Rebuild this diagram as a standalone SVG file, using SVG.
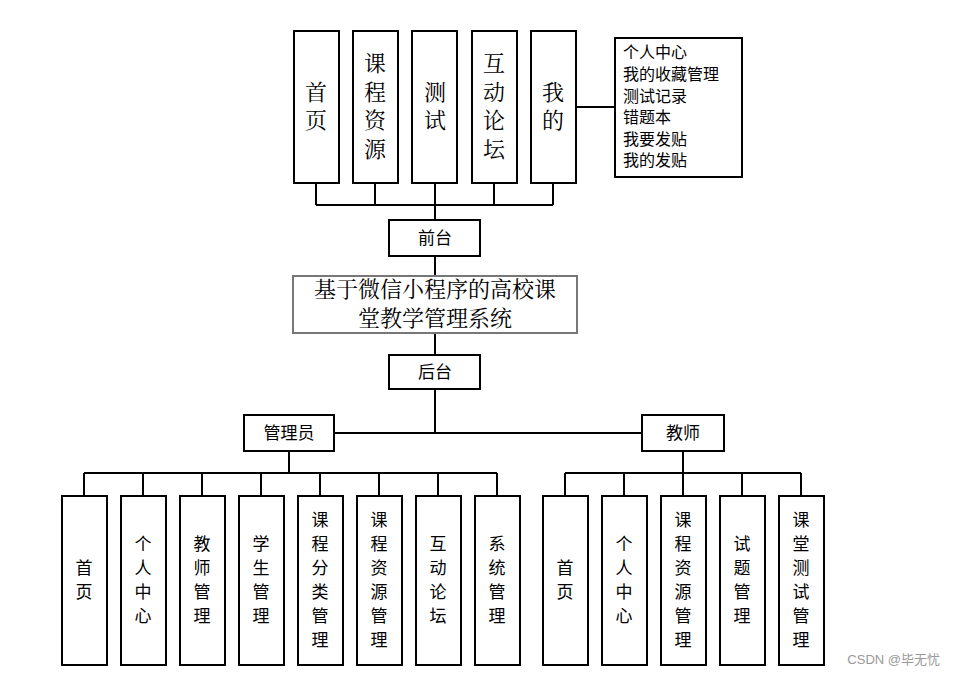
<svg xmlns="http://www.w3.org/2000/svg" width="955" height="679" viewBox="0 0 955 679">
<style>
.b{fill:#fff;stroke:#000;stroke-width:2}
.c{fill:none;stroke:#000;stroke-width:2}
.s{font-family:"Liberation Serif","Noto Serif CJK SC","Noto Sans CJK SC",serif;font-size:22px;text-anchor:middle;dominant-baseline:central}
.t{font-family:"Liberation Sans","Noto Sans CJK SC",sans-serif;font-size:17px;text-anchor:middle;dominant-baseline:central}
.l{font-family:"Liberation Sans","Noto Sans CJK SC",sans-serif;font-size:16px;dominant-baseline:central}
</style>
<rect width="955" height="679" fill="#fff"/>
<g id="connectors" class="c">
<path d="M316 183V205M375 183V205M435 183V220M494 183V205M553 183V205M316 205H553"/>
<path d="M576 107H615"/>
<path d="M435 256V276M435 333V355M435 389V433M334 433H642"/>
<path d="M289 451V473M84 473H497M84 473V496M143 473V496M202 473V496M261 473V496M320 473V496M379 473V496M438 473V496M497 473V496"/>
<path d="M683 451V473M565 473H801M565 473V496M624 473V496M683 473V496M742 473V496M801 473V496"/>
</g>
<g id="f1"><rect class="b" x="294" y="31" width="45" height="152"/><text class="s" x="316" y="92">首</text><text class="s" x="316" y="120">页</text></g>
<g id="f2"><rect class="b" x="353" y="31" width="45" height="152"/><text class="s" x="375" y="63">课</text><text class="s" x="375" y="92">程</text><text class="s" x="375" y="120">资</text><text class="s" x="375" y="149">源</text></g>
<g id="f3"><rect class="b" x="412" y="31" width="45" height="152"/><text class="s" x="435" y="92">测</text><text class="s" x="435" y="120">试</text></g>
<g id="f4"><rect class="b" x="472" y="31" width="45" height="152"/><text class="s" x="494" y="63">互</text><text class="s" x="494" y="92">动</text><text class="s" x="494" y="120">论</text><text class="s" x="494" y="149">坛</text></g>
<g id="f5"><rect class="b" x="531" y="31" width="45" height="152"/><text class="s" x="553" y="92">我</text><text class="s" x="553" y="120">的</text></g>
<g id="mine"><rect class="b" x="615" y="38" width="127" height="139"/>
<text class="l" x="623" y="52">个人中心</text><text class="l" x="623" y="74">我的收藏管理</text><text class="l" x="623" y="96">测试记录</text><text class="l" x="623" y="117">错题本</text><text class="l" x="623" y="139">我要发贴</text><text class="l" x="623" y="160">我的发贴</text></g>
<g id="front"><rect class="b" x="389" y="220" width="91" height="36"/><text class="t" x="435" y="238">前台</text></g>
<g id="title"><rect x="293" y="276" width="284" height="57" fill="#fff" stroke="#777" stroke-width="2"/><text class="s" x="435" y="289">基于微信小程序的高校课</text><text class="s" x="435" y="318">堂教学管理系统</text></g>
<g id="back"><rect class="b" x="389" y="355" width="91" height="34"/><text class="t" x="435" y="372">后台</text></g>
<g id="admin"><rect class="b" x="244" y="415" width="90" height="36"/><text class="t" x="289" y="433">管理员</text></g>
<g id="teacher"><rect class="b" x="642" y="415" width="82" height="36"/><text class="t" x="683" y="433">教师</text></g>
<g id="a1"><rect class="b" x="62" y="496" width="45" height="169"/><text class="t" x="84" y="568">首</text><text class="t" x="84" y="592">页</text></g>
<g id="a2"><rect class="b" x="121" y="496" width="45" height="169"/><text class="t" x="143" y="544">个</text><text class="t" x="143" y="568">人</text><text class="t" x="143" y="592">中</text><text class="t" x="143" y="616">心</text></g>
<g id="a3"><rect class="b" x="180" y="496" width="45" height="169"/><text class="t" x="202" y="544">教</text><text class="t" x="202" y="568">师</text><text class="t" x="202" y="592">管</text><text class="t" x="202" y="616">理</text></g>
<g id="a4"><rect class="b" x="239" y="496" width="45" height="169"/><text class="t" x="261" y="544">学</text><text class="t" x="261" y="568">生</text><text class="t" x="261" y="592">管</text><text class="t" x="261" y="616">理</text></g>
<g id="a5"><rect class="b" x="298" y="496" width="45" height="169"/><text class="t" x="320" y="520">课</text><text class="t" x="320" y="544">程</text><text class="t" x="320" y="568">分</text><text class="t" x="320" y="592">类</text><text class="t" x="320" y="616">管</text><text class="t" x="320" y="640">理</text></g>
<g id="a6"><rect class="b" x="357" y="496" width="45" height="169"/><text class="t" x="379" y="520">课</text><text class="t" x="379" y="544">程</text><text class="t" x="379" y="568">资</text><text class="t" x="379" y="592">源</text><text class="t" x="379" y="616">管</text><text class="t" x="379" y="640">理</text></g>
<g id="a7"><rect class="b" x="416" y="496" width="45" height="169"/><text class="t" x="438" y="544">互</text><text class="t" x="438" y="568">动</text><text class="t" x="438" y="592">论</text><text class="t" x="438" y="616">坛</text></g>
<g id="a8"><rect class="b" x="475" y="496" width="45" height="169"/><text class="t" x="497" y="544">系</text><text class="t" x="497" y="568">统</text><text class="t" x="497" y="592">管</text><text class="t" x="497" y="616">理</text></g>
<g id="t1"><rect class="b" x="543" y="496" width="45" height="169"/><text class="t" x="565" y="568">首</text><text class="t" x="565" y="592">页</text></g>
<g id="t2"><rect class="b" x="602" y="496" width="45" height="169"/><text class="t" x="624" y="544">个</text><text class="t" x="624" y="568">人</text><text class="t" x="624" y="592">中</text><text class="t" x="624" y="616">心</text></g>
<g id="t3"><rect class="b" x="661" y="496" width="45" height="169"/><text class="t" x="683" y="520">课</text><text class="t" x="683" y="544">程</text><text class="t" x="683" y="568">资</text><text class="t" x="683" y="592">源</text><text class="t" x="683" y="616">管</text><text class="t" x="683" y="640">理</text></g>
<g id="t4"><rect class="b" x="720" y="496" width="45" height="169"/><text class="t" x="742" y="544">试</text><text class="t" x="742" y="568">题</text><text class="t" x="742" y="592">管</text><text class="t" x="742" y="616">理</text></g>
<g id="t5"><rect class="b" x="779" y="496" width="45" height="169"/><text class="t" x="801" y="520">课</text><text class="t" x="801" y="544">堂</text><text class="t" x="801" y="568">测</text><text class="t" x="801" y="592">试</text><text class="t" x="801" y="616">管</text><text class="t" x="801" y="640">理</text></g>
<text x="940" y="664" text-anchor="end" font-family="'Liberation Sans','Noto Sans CJK SC',sans-serif" font-size="13" fill="#999">CSDN @毕无忧</text>
</svg>
